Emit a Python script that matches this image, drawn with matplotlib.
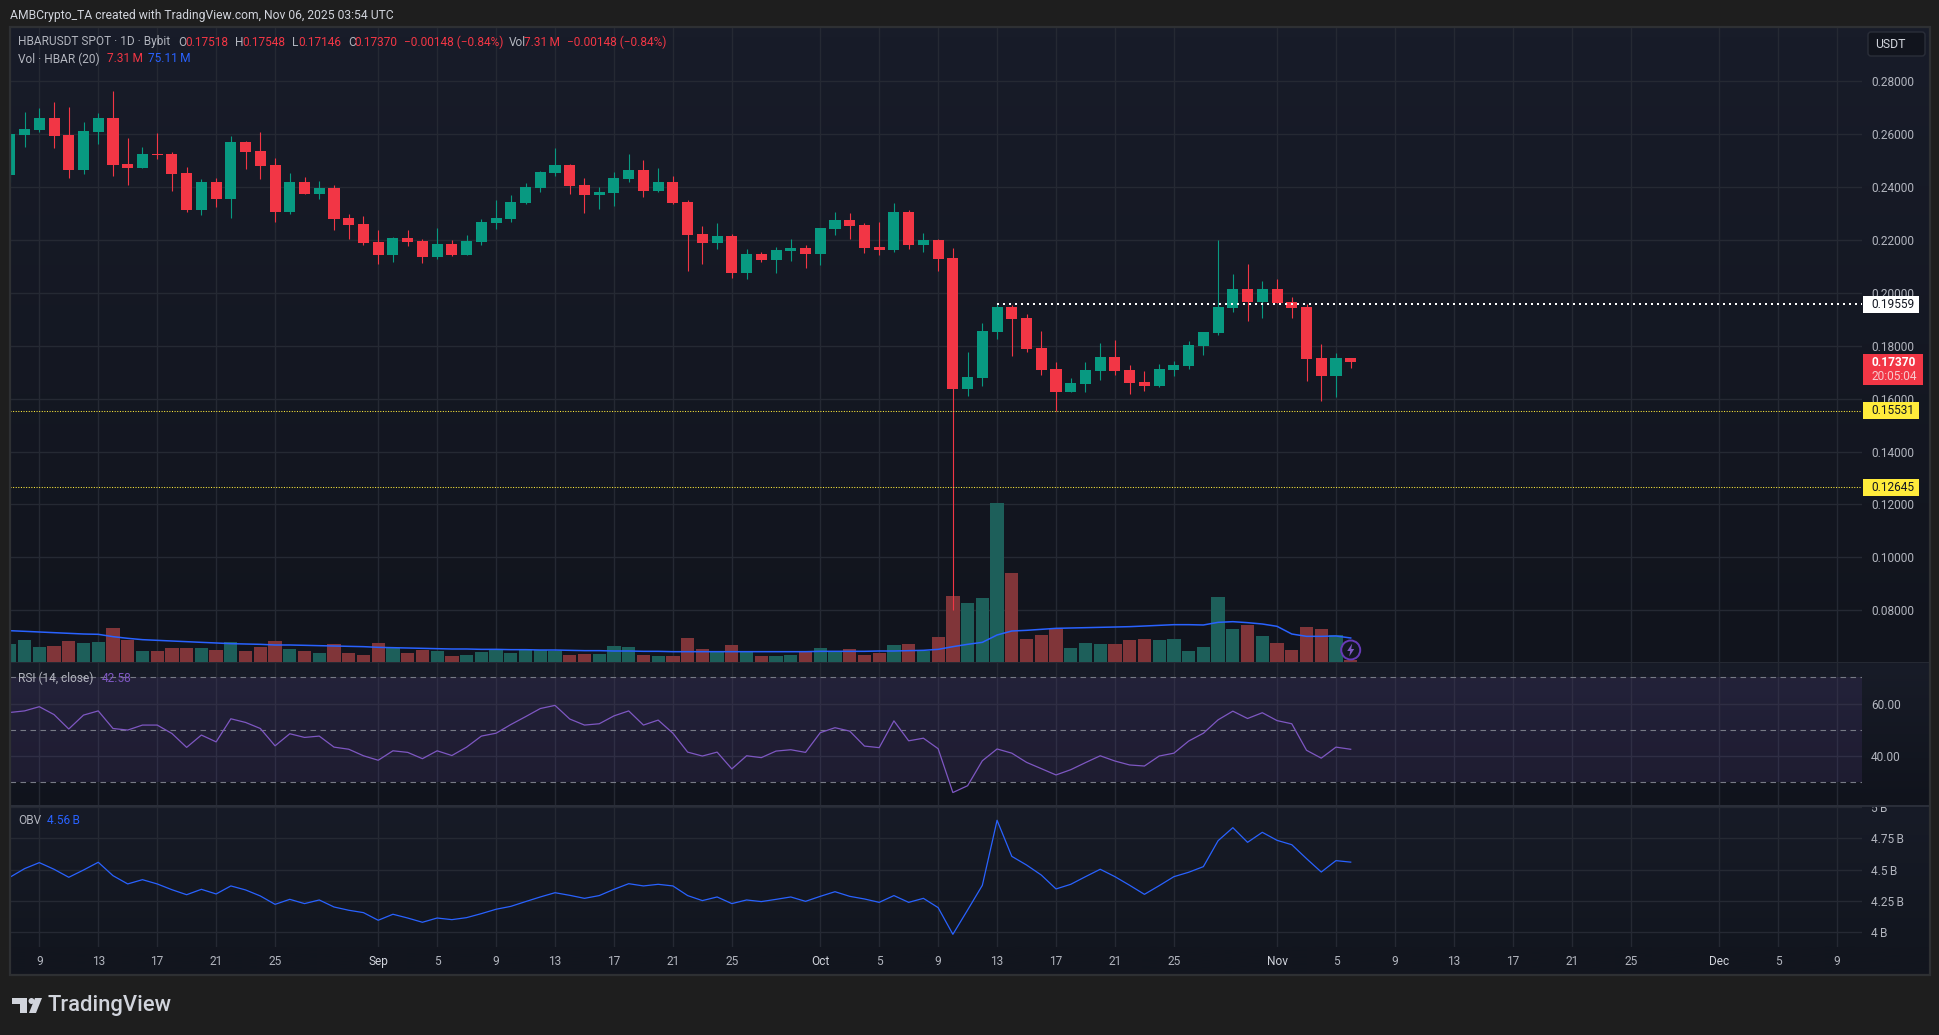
import matplotlib
matplotlib.use("Agg")
import matplotlib.dates as mdates
import matplotlib.pyplot as plt
import numpy as np
import pandas as pd
from matplotlib.patches import Circle, FancyBboxPatch, Polygon, Rectangle
from matplotlib.transforms import Bbox, IdentityTransform

plt.rcParams["font.family"] = ["Roboto", "DejaVu Sans"]

W, H = 1940, 1035

dates = pd.date_range("2025-08-07", "2025-11-06")

opens = [
    .24447, .25959, .26148, .26601, .25959, .24636, .26072, .26601, .24863, .24711, .25241, .25241, .24522,
    .23124, .24182, .2354, .25694, .25354, .24825, .23048, .24182, .23729, .23955, .22821, .22595,
    .21914, .21423, .22065, .21952, .21347, .21839, .21423, .21914, .22632, .22784, .23388, .23955, .24522,
    .24825, .24069, .23691, .23766, .24296, .24636, .23842, .24202, .23446, .22236, .21896, .2216,
    .20762, .2148, .21253, .21593, .21707,
    .2148, .22425, .22765, .22576, .21745, .21631, .23068, .2182, .22009, .21329, .16377, .16793, .18532,
    .19477, .19061, .17927, .17133, .16264, .16566, .17057, .17587, .17095, .16642, .1649, .17095, .17246,
    .18002, .18494, .19439, .20157, .19666,
    .20157, .19666, .19477, .17549, .16868, .17518,
]
highs = [
    .2611, .26828, .26979, .27206, .27017, .2645, .2679, .27622, .25845, .25505, .26034, .25316, .24749,
    .24296, .24333, .25921, .25745, .26072, .25089, .24522, .24371, .2422, .24069, .22973, .22897,
    .22368, .22103, .22368, .22028, .22443, .2199, .22179, .22784, .23502, .23691, .24144, .24598, .25467,
    .24863, .24333, .23993, .2456, .25241, .25014, .24711, .24428, .23521, .22538, .22652, .22236,
    .21669, .21556, .21745, .22047, .2182,
    .22463, .23068, .2303, .22652, .2269, .23408, .23143, .22274, .22047, .21707, .17776, .18872, .1959,
    .19552, .19212, .18569, .17398, .16793, .17398, .18116, .1823, .17284, .17057, .17322, .17435, .18191,
    .18532, .22009, .20724, .21102, .20459,
    .20535, .19855, .1959, .18078, .17738, .17548,
]
lows = [
    .24195, .25505, .26072, .25467, .24333, .24485, .25619, .24409, .24069, .24711, .25052, .23842, .23048,
    .22935, .23237, .22821, .24674, .24296, .2267, .22973, .23729, .2354, .22368, .22028, .21801,
    .21083, .21158, .21763, .2112, .21272, .21385, .21423, .21801, .22406, .2267, .2335, .23804, .24409,
    .23729, .2301, .23162, .23275, .24182, .23615, .23804, .2337, .20837, .21102, .21669, .20573,
    .20535, .21178, .20762, .21215, .20951,
    .21064, .22198, .22047, .21518, .21442, .21556, .21669, .21556, .20837, .0800, .16112, .1649, .18267,
    .17624, .17776, .16906, .15531, .16264, .16264, .16717, .16906, .16188, .16301, .16453, .16868, .17133,
    .17662, .18418, .19288, .18947, .19061,
    .19628, .19061, .16679, .15923, .16075, .17146,
]
closes = [
    .25984, .26186, .26601, .25921, .24636, .2611, .26601, .24825, .24711, .25241, .25203, .24485, .23124,
    .24182, .2354, .25694, .25316, .24787, .23048, .24182, .23729, .23955, .22784, .22557, .21876,
    .21423, .22065, .21914, .21347, .21839, .21423, .21952, .2267, .22821, .23426, .23993, .2456, .24825,
    .24031, .23691, .23804, .24333, .24636, .23842, .24182, .23408, .22198, .21896, .2216, .20762,
    .2148, .21253, .21631, .21707, .2148,
    .22463, .22765, .22538, .21707, .21631, .23068, .2182, .22009, .21291, .16377, .16831, .18569, .19477,
    .19023, .17889, .17095, .16264, .16604, .17095, .17587, .17057, .16604, .1649, .17133, .17284, .1804,
    .18532, .19477, .20157, .19666, .20157,
    .19628, .19439, .17511, .16868, .17549, .1737,
]
volumes = [
    56.3, 68.8, 46.9, 50.1, 65.7, 59.5, 62.6, 106.4, 68.8, 34.4, 34.4, 43.8, 43.8, 43.8, 37.5, 62.6, 34.4, 46.9,
    65.7, 40.7, 34.4, 28.2, 56.3, 28.2, 21.9,
    59.5, 43.8, 28.2, 37.5, 34.4, 18.8, 21.9, 31.3, 37.5, 28.2, 37.5, 37.5, 34.4, 21.9, 25.0, 25.0, 50.1, 46.9,
    21.9, 18.8, 18.8, 75.1, 40.7, 34.4, 53.2, 34.4, 18.8, 18.8, 21.9, 34.4,
    43.8, 34.4, 40.7, 21.9, 28.2, 53.2, 56.3, 34.4, 78.2, 206.5, 184.6, 200.3, 497.5, 278.5, 72.0, 84.5, 103.3,
    43.8, 59.5, 56.3, 56.3, 68.8, 72.0, 68.8, 72.0, 34.4, 46.9, 203.4, 103.3, 115.8, 81.4,
    59.5, 37.5, 109.5, 103.3, 84.5, 7.31,
]
vol_ma = [
    98.0, 96.0, 93.9, 91.8, 89.7, 87.6, 86.6, 79.3, 74.1, 69.9, 67.8, 65.7, 63.6, 61.5, 59.5, 57.4, 56.3, 55.3,
    53.2, 53.2, 52.2, 51.1, 50.1, 49.0, 48.0,
    45.9, 44.8, 43.8, 42.8, 41.7, 40.7, 40.7, 39.6, 39.6, 38.6, 38.6, 37.5, 37.5, 36.5, 35.5, 35.5, 34.4, 34.4,
    33.4, 33.4, 32.3, 32.3, 32.3, 32.3, 32.3, 32.3, 32.3, 32.3, 32.3, 32.3,
    33.4, 33.4, 33.4, 33.4, 34.4, 34.4, 35.5, 36.5, 39.6, 48.0, 55.3, 61.5, 84.5, 97.0, 99.1, 102.2, 105.3,
    106.4, 107.4, 108.5, 109.5, 110.6, 112.6, 114.7, 116.8, 116.8, 115.8, 124.1, 126.2, 123.1, 118.9,
    111.6, 87.6, 80.3, 80.3, 81.4, 75.11,
]
rsi = [
    56.6, 57.2, 58.8, 55.8, 50.3, 55.6, 57.2, 50.5, 49.9, 51.8, 51.8, 48.6, 43.3, 48.0, 45.4, 54.2, 52.8, 50.5,
    43.9, 48.5, 47.1, 47.6, 43.4, 42.6, 40.1,
    38.4, 42.0, 41.4, 39.0, 42.0, 40.2, 43.4, 47.6, 48.7, 52.0, 55.0, 58.1, 59.3, 54.1, 51.8, 52.3, 55.3, 57.2,
    51.8, 53.7, 48.7, 41.5, 40.0, 41.5, 35.1, 40.1, 39.4, 41.9, 42.4, 41.4,
    48.9, 50.8, 49.5, 43.8, 43.2, 53.4, 45.8, 46.8, 42.8, 26.1, 28.7, 38.2, 42.7, 41.1, 37.6, 35.2, 32.8,
    34.8, 37.5, 40.1, 38.1, 36.6, 36.2, 40.0, 41.1, 45.7, 48.7, 53.8, 57.1, 54.3, 56.5,
    53.5, 52.3, 42.2, 39.2, 43.4, 42.58,
]
obv = [
    4.439, 4.508, 4.556, 4.503, 4.439, 4.497, 4.559, 4.452, 4.386, 4.42, 4.386, 4.34, 4.30, 4.343, 4.306, 4.37,
    4.338, 4.29, 4.223, 4.263, 4.229, 4.258, 4.202, 4.176, 4.157,
    4.096, 4.144, 4.114, 4.08, 4.114, 4.101, 4.117, 4.149, 4.184, 4.207, 4.245, 4.282, 4.316, 4.295, 4.271,
    4.293, 4.343, 4.388, 4.37, 4.383, 4.37, 4.293, 4.253, 4.282, 4.229, 4.258, 4.245, 4.263, 4.282, 4.247,
    4.287, 4.324, 4.287, 4.266, 4.239, 4.293, 4.239, 4.271, 4.197, 3.984, 4.178, 4.375, 4.894, 4.606, 4.537,
    4.457, 4.346, 4.383, 4.444, 4.503, 4.444, 4.375, 4.303, 4.372, 4.444, 4.479, 4.524, 4.731, 4.835, 4.718,
    4.798,
    4.734, 4.699, 4.588, 4.481, 4.572, 4.56,
]

price_ticks = [0.08, 0.10, 0.12, 0.14, 0.16, 0.18, 0.20, 0.22, 0.24, 0.26, 0.28]
rsi_ticks = [40, 60]
rsi_levels = [30, 50, 70]
obv_ticks = [4, 4.25, 4.5, 4.75, 5]
obv_tick_labels = ["4\u2009B", "4.25\u2009B", "4.5\u2009B", "4.75\u2009B", "5\u2009B"]
time_ticks = pd.to_datetime([
    "2025-08-09", "2025-08-13", "2025-08-17", "2025-08-21", "2025-08-25",
    "2025-09-01", "2025-09-05", "2025-09-09", "2025-09-13", "2025-09-17", "2025-09-21", "2025-09-25",
    "2025-10-01", "2025-10-05", "2025-10-09", "2025-10-13", "2025-10-17", "2025-10-21", "2025-10-25",
    "2025-11-01", "2025-11-05", "2025-11-09", "2025-11-13", "2025-11-17", "2025-11-21", "2025-11-25",
    "2025-12-01", "2025-12-05", "2025-12-09",
])
level_white = 0.19559
level_support = [0.15531, 0.12645]

BG_OUT = "#1e1e1e"
GRID = "#252933"
TXT = "#b2b5be"
RED = "#f23645"
GREEN = "#089981"
BLUE = "#2962ff"
PURPLE = "#7e57c2"
YELLOW = "#ffeb3b"

LEFT, AX_RIGHT, RIGHT = 10, 1862, 1930
TOP, PRICE_BOT, RSI_BOT, OBV_BOT, BOTTOM = 27, 662, 806, 947, 975

# x scale: 14.735 px per day, Aug 9 sits on px 39.3
day0 = mdates.date2num(pd.Timestamp("2025-08-09"))
xlim = (day0 + (LEFT - 39.3) / 14.735, day0 + (AX_RIGHT - 39.3) / 14.735)

fig = plt.figure(figsize=(W / 100, H / 100), dpi=100, facecolor=BG_OUT)


def add_pane(x0, y0, x1, y1, zorder=1):
    ax = fig.add_axes([x0 / W, 1 - y1 / H, (x1 - x0) / W, (y1 - y0) / H], zorder=zorder)
    ax.patch.set_visible(False)
    for s in ax.spines.values():
        s.set_visible(False)
    return ax


def gradient(y0, y1, top, bottom):
    ax = add_pane(LEFT, y0, RIGHT, y1, zorder=0)
    c0 = np.array(matplotlib.colors.to_rgb(top))
    c1 = np.array(matplotlib.colors.to_rgb(bottom))
    t = np.linspace(0, 1, 64)[:, None, None]
    ax.imshow(c0[None, None, :] * (1 - t) + c1[None, None, :] * t, aspect="auto")
    ax.set_axis_off()


gradient(TOP, PRICE_BOT, "#181c29", "#11141d")
gradient(PRICE_BOT, RSI_BOT, "#181c28", "#10131c")
gradient(RSI_BOT, OBV_BOT, "#171b27", "#12161f")
gradient(OBV_BOT, BOTTOM, "#12161f", "#12151e")


def setup_scale(ax, ylim, ticks, labels):
    ax.set_xlim(xlim)
    ax.set_ylim(ylim)
    ax.set_xticks(time_ticks)
    ax.set_xticklabels([])
    ax.tick_params(axis="x", length=0)
    ax.yaxis.tick_right()
    ax.set_yticks(ticks)
    ax.set_yticklabels(labels)
    ax.tick_params(axis="y", length=0, pad=6.5, labelsize=8.6, labelcolor=TXT)
    ax.grid(True, color=GRID, linewidth=1.0)
    ax.set_axisbelow(True)


# price pane: scale and grid at the bottom, then volume, then candles
price_ylim = (0.28 - (PRICE_BOT - 81) / 52.93 * 0.02, 0.28 + (81 - TOP) / 52.93 * 0.02)
ax_grid = add_pane(LEFT, TOP, AX_RIGHT, PRICE_BOT, zorder=1)
setup_scale(ax_grid, price_ylim, price_ticks, [f"{t:.5f}" for t in price_ticks])

ax_vol = add_pane(LEFT, TOP, AX_RIGHT, PRICE_BOT, zorder=2)
ax_vol.set_xlim(xlim)
ax_vol.set_ylim(0, (PRICE_BOT - TOP) * 3.129)
ax_vol.set_axis_off()
ups = np.array(closes) >= np.array(opens)
ax_vol.bar(dates, volumes, width=0.9, color=np.where(ups, "#1d5f5a", "#803539"), linewidth=0)
ax_vol.plot(dates, vol_ma, color=BLUE, linewidth=1.1)

ax = add_pane(LEFT, TOP, AX_RIGHT, PRICE_BOT, zorder=3)
ax.set_xlim(xlim)
ax.set_ylim(price_ylim)
ax.set_axis_off()
colors = np.where(ups, GREEN, RED)
ax.vlines(dates, lows, highs, color=colors, linewidth=0.8)
body_low = np.minimum(opens, closes)
body_high = np.maximum(opens, closes)
ax.bar(dates, body_high - body_low, bottom=body_low, width=0.75, color=colors, linewidth=0)

ax.hlines(level_white, dates[67], xlim[1], color="white", linewidth=1.44, linestyle=(0, (1, 2)))
for lv in level_support:
    ax.axhline(lv, color=YELLOW, linewidth=0.75, linestyle=(0, (1, 1.5)))

# rsi pane
rsi_ylim = (70 - (RSI_BOT - 677.3) / 2.625, 70 + (677.3 - PRICE_BOT) / 2.625)
ax_rsi = add_pane(LEFT, PRICE_BOT, AX_RIGHT, RSI_BOT, zorder=3)
setup_scale(ax_rsi, rsi_ylim, rsi_ticks, [f"{t:.2f}" for t in rsi_ticks])
ax_rsi.axhspan(rsi_levels[0], rsi_levels[-1], color=PURPLE, alpha=0.12, linewidth=0)
for lv in rsi_levels:
    ax_rsi.axhline(lv, color="#787b86", linewidth=0.8, linestyle=(0, (5, 4)))
ax_rsi.plot(dates, rsi, color=PURPLE, linewidth=0.9)

# obv pane
obv_ylim = (4 - (OBV_BOT - 932.3) / 125.3, 4 + (932.3 - RSI_BOT) / 125.3)
ax_obv = add_pane(LEFT, RSI_BOT, AX_RIGHT, OBV_BOT, zorder=3)
setup_scale(ax_obv, obv_ylim, obv_ticks, obv_tick_labels)
ax_obv.plot(dates, obv, color=BLUE, linewidth=0.9)
for lab in ax_obv.get_yticklabels():
    lab.set_clip_box(Bbox([[AX_RIGHT, 0], [RIGHT, H - RSI_BOT]]))
    lab.set_clip_on(True)

labels = []
for d in time_ticks:
    labels.append(d.strftime("%b") if d.day == 1 else str(d.day))
ax_obv.set_xticklabels(labels)
ax_obv.tick_params(axis="x", length=0, pad=6, labelsize=8.6, labelcolor=TXT)
for lab in ax_obv.get_xticklabels():
    if lab.get_text() in ("Sep", "Oct", "Nov", "Dec"):
        lab.set_color("#d1d4dc")

# separators and frame
ident = IdentityTransform()


def px_rect(x, y, w, h, **kw):
    fig.add_artist(Rectangle((x, H - y - h), w, h, transform=ident, **kw))


def px_text(x, y, s, **kw):
    kw.setdefault("fontsize", 8.6)
    kw.setdefault("va", "center")
    fig.text(x, H - y, s, transform=ident, **kw)


px_rect(LEFT, PRICE_BOT - 0.5, RIGHT - LEFT, 1, facecolor="#252933", linewidth=0, zorder=4)
px_rect(LEFT, RSI_BOT - 1, RIGHT - LEFT, 2, facecolor="#2a2e39", linewidth=0, zorder=4)
px_rect(LEFT, TOP, RIGHT - LEFT, BOTTOM - TOP, facecolor="none", edgecolor="#2e3033", linewidth=1.6, zorder=4)

# header and legends
px_text(10, 15, "AMBCrypto_TA created with TradingView.com, Nov 06, 2025 03:54 UTC", color="#d1d4dc", fontsize=8.7)

px_text(18, 42, "HBARUSDT SPOT · 1D · Bybit", color=TXT, fontsize=8.6, zorder=5)
for x, s, c in [
    (178, "O", TXT), (185, "0.17518", RED), (235, "H", TXT), (242, "0.17548", RED),
    (292, "L", TXT), (298, "0.17146", RED), (348, "C", TXT), (354.5, "0.17370", RED),
    (404.5, "\u22120.00148 (\u22120.84%)", RED), (509, "Vol", TXT), (524.5, "7.31\u2009M", RED),
    (567, "\u22120.00148 (\u22120.84%)", RED),
]:
    px_text(x, 42, s, color=c, zorder=5)
px_text(18, 59, "Vol · HBAR (20)", color=TXT, zorder=5)
px_text(107, 59, "7.31\u2009M", color=RED, zorder=5)
px_text(148, 59, "75.11\u2009M", color=BLUE, zorder=5)
px_text(18, 678, "RSI (14, close)", color=TXT, zorder=5)
px_text(102, 678, "42.58", color=PURPLE, zorder=5)
px_text(18, 821, "OBV", color=TXT, zorder=5)
px_text(47, 821, "4.56\u2009B", color=BLUE, zorder=5)


# value tags on the price scale
def tag_y(value):
    return H - ax.transData.transform((0, value))[1]


y = tag_y(level_white)
px_rect(AX_RIGHT + 1, y - 8.5, 56, 17, facecolor="white", linewidth=0, zorder=5)
px_text(1871, y, f"{level_white:.5f}", color="#131722", zorder=6)
for lv in level_support:
    y = tag_y(lv)
    px_rect(AX_RIGHT + 1, y - 8.5, 56, 17, facecolor=YELLOW, linewidth=0, zorder=5)
    px_text(1871, y, f"{lv:.5f}", color="#131722", zorder=6)

# last price tag hangs below the price, with the countdown under it
y = tag_y(closes[-1])
px_rect(AX_RIGHT + 1, y - 8.5, 60, 31, facecolor=RED, linewidth=0, zorder=5)
px_text(1871, y, f"{closes[-1]:.5f}", color="white", fontweight="bold", zorder=6)
px_text(1871, y + 14.5, "20:05:04", color="#f8c9cd", zorder=6)

# currency button
fig.add_artist(FancyBboxPatch((1868, H - 56), 57, 24, boxstyle="round,pad=0,rounding_size=3", transform=ident,
                              facecolor="#11141d", edgecolor="#2a2e39", linewidth=1, zorder=5))
px_text(1875, 44.5, "USDT", color="#d1d4dc", fontsize=8.8, zorder=6)

# lightning badge on the last volume bar
badge_x = ax.transData.transform((mdates.date2num(dates[-1]), 0.1))[0]
badge_y = H - 650
fig.add_artist(Circle((badge_x, badge_y), 9.5, transform=ident, facecolor="#131722", edgecolor="#673ab7",
                      linewidth=1.4, zorder=5))
bolt = np.array([[1.5, 6.5], [-3.5, -1], [-0.5, -1], [-1.5, -6.5], [3.5, 1], [0.5, 1]])
fig.add_artist(Polygon(bolt + [badge_x, badge_y], closed=True, transform=ident, facecolor="#7e57c2", linewidth=0,
                       zorder=6))

# logo
logo = "#d1d4dc"
px_rect(12, 998, 15, 6, facecolor=logo, linewidth=0, zorder=5)
px_rect(20, 998, 7, 15, facecolor=logo, linewidth=0, zorder=5)
fig.add_artist(Circle((31.5, H - 1001), 3, transform=ident, facecolor=logo, linewidth=0, zorder=5))
fig.add_artist(Polygon([[35, H - 998], [42, H - 998], [36, H - 1013], [29, H - 1013]], closed=True, transform=ident,
                       facecolor=logo, linewidth=0, zorder=5))
px_text(48, 1006, "TradingView", color="#d1d4dc", fontsize=15.8, fontweight="medium", zorder=5)

fig.savefig("out.png", dpi=100, facecolor=BG_OUT)
